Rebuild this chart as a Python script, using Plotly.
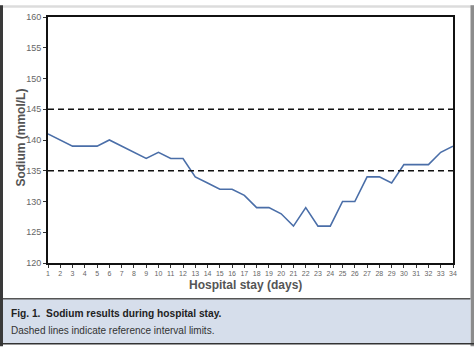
import plotly.graph_objects as go

# Daily sodium results (mmol/L) over the hospital stay
days = list(range(1, 35))
sodium = [141, 140, 139, 139, 139, 140, 139, 138, 137, 138,
          137, 137, 134, 133, 132, 132, 131, 129, 129, 128,
          126, 129, 126, 126, 130, 130, 134, 134, 133, 136,
          136, 136, 138, 139]

# Reference interval limits
ref_low = 135
ref_high = 145

y_ticks = [120, 125, 130, 135, 140, 145, 150, 155, 160]

W, H = 474, 348
ML, MR, MT, MB = 48, 21, 12, 85
PW = W - ML - MR
PH = H - MT - MB


def px(x):
    return (x - ML) / PW


def py(y):
    return (H - MB - y) / PH


fig = go.Figure()

fig.add_trace(go.Scatter(
    x=days, y=sodium, mode="lines",
    line=dict(color="#4a6ea8", width=1.6),
    showlegend=False, hoverinfo="skip",
))

for level in (ref_low, ref_high):
    fig.add_trace(go.Scatter(
        x=[days[0], days[-1]], y=[level, level], mode="lines",
        line=dict(color="#111111", width=1.6, dash="6px,4px"),
        showlegend=False, hoverinfo="skip",
    ))

shapes = [
    # outer frame pieces
    dict(type="rect", xref="paper", yref="paper", x0=px(0), x1=px(W), y0=py(0), y1=py(2.5),
         fillcolor="#dcdcdc", line=dict(width=0), layer="below"),
    dict(type="rect", xref="paper", yref="paper", x0=px(0), x1=px(3), y0=py(0), y1=py(H),
         fillcolor="#3a3a3a", line=dict(width=0)),
    dict(type="rect", xref="paper", yref="paper", x0=px(470.5), x1=px(W), y0=py(0), y1=py(H),
         fillcolor="#8c8c8c", line=dict(width=0)),
    # caption panel
    dict(type="rect", xref="paper", yref="paper", x0=px(3), x1=px(470.5), y0=py(299), y1=py(345),
         fillcolor="#d6deeb", line=dict(width=0)),
    dict(type="line", xref="paper", yref="paper", x0=px(3), x1=px(470.5), y0=py(299.5), y1=py(299.5),
         line=dict(color="#555555", width=1.5)),
    dict(type="line", xref="paper", yref="paper", x0=px(0), x1=px(W), y0=py(345.5), y1=py(345.5),
         line=dict(color="#333333", width=1.5)),
]

caption_font = "Liberation Sans, Arial, sans-serif"

annotations = [
    dict(text="<b>Hospital stay (days)</b>", xref="paper", yref="paper",
         x=px(245), y=py(285), xanchor="center", yanchor="middle", showarrow=False,
         font=dict(family="Liberation Sans, Arial", size=12, color="#555555")),
    dict(text="<b>Sodium (mmol/L)</b>", xref="paper", yref="paper",
         x=px(21), y=py(135), xanchor="center", yanchor="middle", showarrow=False, textangle=-90,
         font=dict(family="Liberation Sans, Arial", size=12, color="#555555")),
    dict(text="<b>Fig. 1.</b>  <b>Sodium results during hospital stay.</b>", xref="paper", yref="paper",
         x=px(9), y=py(315), xanchor="left", yanchor="middle", showarrow=False,
         font=dict(family=caption_font, size=10.2, color="#222222")),
    dict(text="Dashed lines indicate reference interval limits.", xref="paper", yref="paper",
         x=px(9), y=py(331.5), xanchor="left", yanchor="middle", showarrow=False,
         font=dict(family=caption_font, size=10, color="#333333")),
]

fig.update_layout(
    width=W, height=H,
    margin=dict(l=ML, r=MR, t=MT, b=MB),
    paper_bgcolor="white", plot_bgcolor="white",
    shapes=shapes, annotations=annotations,
    xaxis=dict(range=[1, 34], tickmode="array", tickvals=days, ticktext=[str(d) for d in days],
               showgrid=False, zeroline=False, showline=True, mirror=True,
               linecolor="#111111", linewidth=2, ticks="outside", ticklen=3, tickcolor="#333333",
               tickfont=dict(family="Liberation Sans, Arial", size=7, color="#666666")),
    yaxis=dict(range=[120, 160], tickmode="array", tickvals=y_ticks, ticktext=[str(v) for v in y_ticks],
               showgrid=False, zeroline=False, showline=True, mirror=True,
               linecolor="#111111", linewidth=2, ticks="outside", ticklen=3, tickcolor="#333333",
               tickfont=dict(family="Liberation Sans, Arial", size=9, color="#666666")),
)

fig.write_html("out.html")
